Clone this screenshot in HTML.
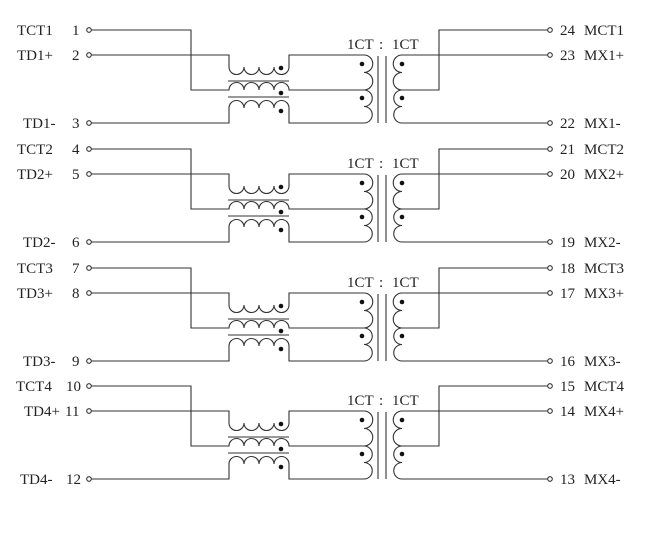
<!DOCTYPE html>
<html><head><meta charset="utf-8"><style>
html,body{margin:0;padding:0;background:#fff}
svg{display:block}
text{font-family:"Liberation Serif",serif;font-size:15px;fill:#222}
</style></head><body>
<svg width="650" height="536" viewBox="0 0 650 536" xmlns="http://www.w3.org/2000/svg">
<defs>
<g id="blk" fill="none" stroke="#333" stroke-width="1.1">
  <circle cx="89" cy="30" r="2.3" fill="#fff"/>
  <circle cx="89" cy="55" r="2.3" fill="#fff"/>
  <circle cx="89" cy="123" r="2.3" fill="#fff"/>
  <circle cx="550" cy="30" r="2.3" fill="#fff"/>
  <circle cx="550" cy="55" r="2.3" fill="#fff"/>
  <circle cx="550" cy="123" r="2.3" fill="#fff"/>
  <path d="M91.5,30 H191 V90 H229 a7.5,7.5 0 0 1 15,0 a7.5,7.5 0 0 1 15,0 a7.5,7.5 0 0 1 15,0 a7.5,7.5 0 0 1 15,0 H364"/>
  <path d="M91.5,55 H229 V67 a7.5,7.5 0 0 0 15,0 a7.5,7.5 0 0 0 15,0 a7.5,7.5 0 0 0 15,0 a7.5,7.5 0 0 0 15,0 V55 H364"/>
  <path d="M91.5,123 H229 V108 a7.5,7.5 0 0 1 15,0 a7.5,7.5 0 0 1 15,0 a7.5,7.5 0 0 1 15,0 a7.5,7.5 0 0 1 15,0 V123 H364"/>
  <path d="M228,81 H289 M228,97 H289"/>
  <path d="M364,55 a8.75,8.75 0 0 1 0,17.5 a8.75,8.75 0 0 1 0,17.5 a8.25,8.25 0 0 1 0,16.5 a8.25,8.25 0 0 1 0,16.5"/>
  <path d="M378,56 V123 M386,56 V123"/>
  <path d="M402,55 a8.75,8.75 0 0 0 0,17.5 a8.75,8.75 0 0 0 0,17.5 a8.25,8.25 0 0 0 0,16.5 a8.25,8.25 0 0 0 0,16.5"/>
  <path d="M402,55 H547.5 M402,123 H547.5 M402,90 H439 V30 H547.5"/>
  <circle cx="281" cy="68" r="2.3" fill="#111" stroke="none"/>
  <circle cx="281" cy="93" r="2.3" fill="#111" stroke="none"/>
  <circle cx="281" cy="111" r="2.3" fill="#111" stroke="none"/>
  <circle cx="362" cy="64" r="2.3" fill="#111" stroke="none"/>
  <circle cx="362" cy="98" r="2.3" fill="#111" stroke="none"/>
  <circle cx="402" cy="64" r="2.3" fill="#111" stroke="none"/>
  <circle cx="402" cy="98" r="2.3" fill="#111" stroke="none"/>
  <text x="347" y="49" stroke="none" fill="#222">1CT</text>
  <text x="379" y="49" stroke="none" fill="#222">:</text>
  <text x="392" y="49" stroke="none" fill="#222">1CT</text>
</g>
</defs>
<use href="#blk"/>
<use href="#blk" y="119"/>
<use href="#blk" y="238"/>
<use href="#blk" y="356"/>

<g>
<text x="17" y="35">TCT1</text><text x="72" y="35">1</text>
<text x="17" y="60">TD1+</text><text x="72" y="60">2</text>
<text x="23" y="128">TD1-</text><text x="72" y="128">3</text>
<text x="17" y="154">TCT2</text><text x="72" y="154">4</text>
<text x="17" y="179">TD2+</text><text x="72" y="179">5</text>
<text x="23" y="247">TD2-</text><text x="72" y="247">6</text>
<text x="17" y="273">TCT3</text><text x="72" y="273">7</text>
<text x="17" y="298">TD3+</text><text x="72" y="298">8</text>
<text x="23" y="366">TD3-</text><text x="72" y="366">9</text>
<text x="16" y="391">TCT4</text><text x="66" y="391">10</text>
<text x="24" y="416">TD4+</text><text x="65" y="416">11</text>
<text x="20" y="484">TD4-</text><text x="66" y="484">12</text>

<text x="560" y="35">24</text><text x="584" y="35">MCT1</text>
<text x="560" y="60">23</text><text x="584" y="60">MX1+</text>
<text x="560" y="128">22</text><text x="584" y="128">MX1-</text>
<text x="560" y="154">21</text><text x="584" y="154">MCT2</text>
<text x="560" y="179">20</text><text x="584" y="179">MX2+</text>
<text x="560" y="247">19</text><text x="584" y="247">MX2-</text>
<text x="560" y="273">18</text><text x="584" y="273">MCT3</text>
<text x="560" y="298">17</text><text x="584" y="298">MX3+</text>
<text x="560" y="366">16</text><text x="584" y="366">MX3-</text>
<text x="560" y="391">15</text><text x="584" y="391">MCT4</text>
<text x="560" y="416">14</text><text x="584" y="416">MX4+</text>
<text x="560" y="484">13</text><text x="584" y="484">MX4-</text>
</g>
</svg>
</body></html>
